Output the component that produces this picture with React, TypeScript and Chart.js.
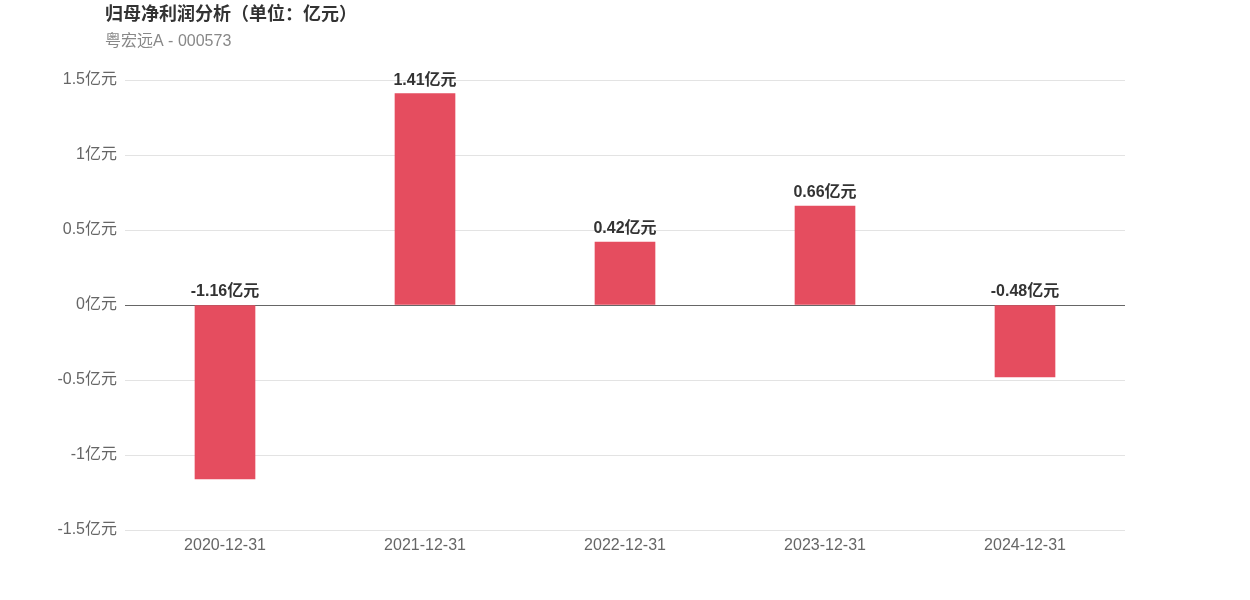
import React, { useEffect, useRef } from "react";
import { Chart, registerables } from "chart.js";

Chart.register(...registerables);

const categories = ["2020-12-31", "2021-12-31", "2022-12-31", "2023-12-31", "2024-12-31"];
const profitValues = [-1.16, 1.41, 0.42, 0.66, -0.48];
const valueLabels = ["-1.16亿元", "1.41亿元", "0.42亿元", "0.66亿元", "-0.48亿元"];
const titleText = "归母净利润分析（单位：亿元）";
const subtitleText = "粤宏远A - 000573";

const FONT = "'Liberation Sans', 'Noto Sans CJK SC', sans-serif";

export default function App() {
  const ref = useRef<HTMLCanvasElement | null>(null);

  useEffect(() => {
    document.body.style.margin = "0";
    if (!ref.current) return;
    const labelPlugin = {
      id: "labels",
      afterDatasetsDraw(chart: any) {
        const ctx = chart.ctx;
        const meta = chart.getDatasetMeta(0);
        const yScale = chart.scales.y;
        const zeroY = yScale.getPixelForValue(0);
        ctx.save();
        ctx.font = `bold 16px ${FONT}`;
        ctx.fillStyle = "#333333";
        ctx.textAlign = "center";
        ctx.textBaseline = "alphabetic";
        meta.data.forEach((bar: any, i: number) => {
          const v = profitValues[i];
          const top = v >= 0 ? bar.y : zeroY;
          ctx.fillText(valueLabels[i], bar.x, top - 9);
        });
        ctx.restore();
      },
      afterDraw(chart: any) {
        const ctx = chart.ctx;
        ctx.save();
        ctx.textAlign = "left";
        ctx.textBaseline = "alphabetic";
        ctx.fillStyle = "#333333";
        ctx.font = `bold 18px ${FONT}`;
        ctx.fillText(titleText, 105, 20);
        ctx.fillStyle = "#888888";
        ctx.font = `16px ${FONT}`;
        ctx.fillText(subtitleText, 105, 46);
        ctx.restore();
      },
    };

    const chart = new Chart(ref.current, {
      type: "bar",
      data: {
        labels: categories,
        datasets: [
          {
            data: profitValues,
            backgroundColor: "#e54d5f",
            barThickness: 60,
          },
        ],
      },
      options: {
        animation: false,
        responsive: false,
        maintainAspectRatio: false,
        layout: { padding: { top: 80, bottom: 0, left: 0, right: 125 } },
        plugins: {
          legend: { display: false },
          tooltip: { enabled: false },
          title: { display: false },
        },
        scales: {
          x: {
            grid: { display: false, drawTicks: false },
            border: { display: false },
            ticks: { color: "#666666", font: { size: 16, family: FONT }, padding: 6 },
            afterFit(scale: any) {
              scale.height = 70;
            },
          },
          y: {
            min: -1.5,
            max: 1.5,
            border: { display: false },
            grid: {
              drawTicks: false,
              color: (c: any) => (c.tick && c.tick.value === 0 ? "#666666" : "#e3e3e3"),
              lineWidth: 1,
            },
            ticks: {
              stepSize: 0.5,
              color: "#666666",
              font: { size: 16, family: FONT },
              padding: 8,
              callback: (v: any) => `${Number(v)}亿元`,
            },
            afterFit(scale: any) {
              scale.width = 125;
            },
          },
        },
      },
      plugins: [labelPlugin],
    });
    return () => chart.destroy();
  }, []);

  return (
    <div style={{ width: 1250, height: 600 }}>
      <canvas ref={ref} width={1250} height={600} style={{ width: 1250, height: 600, display: "block" }} />
    </div>
  );
}
